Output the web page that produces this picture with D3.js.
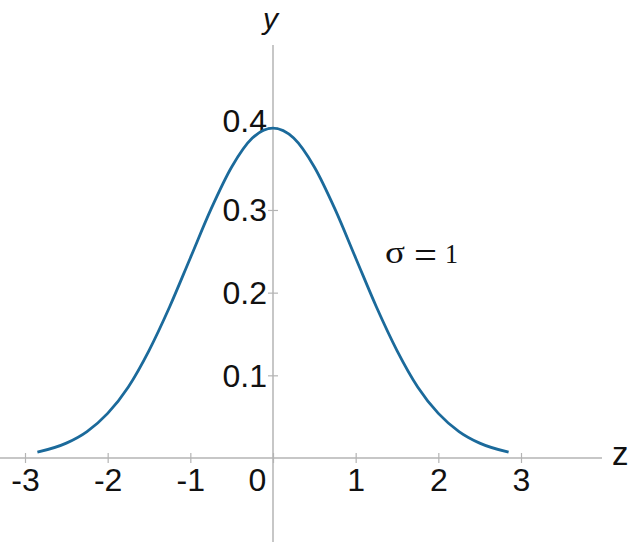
<!DOCTYPE html>
<html>
<head>
<meta charset="utf-8">
<script src="https://cdn.jsdelivr.net/npm/d3@7"></script>
<style>
  body { margin: 0; background: #fff; }
  svg { display: block; }
  .tick text { font-family: "Liberation Sans", Arial, sans-serif; fill: #111; }
</style>
</head>
<body>
<div id="chart"></div>
<script>
// values
const zValues = [-2.85, -2.5, -2.25, -2, -1.75, -1.5, -1.25, -1, -0.75, -0.5, -0.25, 0,
  0.25, 0.5, 0.75, 1, 1.25, 1.5, 1.75, 2, 2.25, 2.5, 2.85];
const yValues = [0.007, 0.018, 0.032, 0.054, 0.086, 0.130, 0.183, 0.242, 0.301, 0.352, 0.387, 0.399,
  0.387, 0.352, 0.301, 0.242, 0.183, 0.130, 0.086, 0.054, 0.032, 0.018, 0.007];
const xTickValues = [-3, -2, -1, 0, 1, 2, 3];
const yTickValues = [0.1, 0.2, 0.3, 0.4];
const sigmaLabel = ['σ', '=', '1'];

const width = 640;
const height = 554;

const svg = d3.select('#chart').append('svg')
  .attr('width', width)
  .attr('height', height)
  .attr('viewBox', [0, 0, width, height]);

// scales
const x = d3.scaleLinear().domain([-3, 3]).range([25, 521]);
const y = d3.scaleLinear().domain([0, 0.4]).range([458, 127.3]);

const axisColor = '#b4b4b4';

// axis lines
svg.append('line')
  .attr('x1', 0).attr('x2', 602)
  .attr('y1', y(0)).attr('y2', y(0))
  .attr('stroke', axisColor).attr('stroke-width', 1.5);

svg.append('line')
  .attr('x1', x(0)).attr('x2', x(0))
  .attr('y1', 45).attr('y2', 542)
  .attr('stroke', axisColor).attr('stroke-width', 1.5);

// x axis ticks
const xAxis = svg.append('g')
  .attr('transform', `translate(0,${y(0)})`)
  .call(d3.axisBottom(x).tickValues(xTickValues).tickFormat(d => String(d)).tickSize(5).tickPadding(5));
xAxis.select('.domain').remove();
xAxis.selectAll('.tick line')
  .attr('y1', -5).attr('y2', 5)
  .attr('stroke', axisColor).attr('stroke-width', 1.2);
xAxis.selectAll('.tick text')
  .attr('font-size', 32)
  .attr('dx', d => d === 0 ? -16 : 0);

// y axis ticks
const yAxis = svg.append('g')
  .attr('transform', `translate(${x(0)},0)`)
  .call(d3.axisLeft(y).tickValues(yTickValues).tickFormat(d3.format('.1f')).tickSize(5).tickPadding(1));
yAxis.select('.domain').remove();
yAxis.selectAll('.tick line')
  .attr('x1', -5).attr('x2', 5)
  .attr('stroke', axisColor).attr('stroke-width', 1.2);
yAxis.selectAll('.tick text')
  .attr('font-size', 32)
  .attr('dy', d => d === 0.4 ? '0.12em' : '0.34em');

// curve
const line = d3.line()
  .x((d, i) => x(zValues[i]))
  .y(d => y(d))
  .curve(d3.curveMonotoneX);

svg.append('path')
  .datum(yValues)
  .attr('d', line)
  .attr('fill', 'none')
  .attr('stroke', '#1b6a9b')
  .attr('stroke-width', 2.8);

// axis names
svg.append('text')
  .attr('x', 612).attr('y', 465)
  .attr('font-family', '"Liberation Sans", Arial, sans-serif')
  .attr('font-size', 33)
  .attr('fill', '#111')
  .text('z');

svg.append('text')
  .attr('x', 263).attr('y', 29)
  .attr('font-family', '"Liberation Sans", Arial, sans-serif')
  .attr('font-style', 'italic')
  .attr('font-size', 30)
  .attr('fill', '#111')
  .text('y');

// sigma note
const sigmaX = [385, 414, 445];
const sigmaY = [263, 269, 263];
const sigmaSize = [31, 40, 27];
const sigmaLen = [20, 23, 13];
svg.selectAll('.sigma')
  .data(sigmaLabel)
  .join('text')
  .attr('class', 'sigma')
  .attr('x', (d, i) => sigmaX[i])
  .attr('y', (d, i) => sigmaY[i])
  .attr('font-family', '"Liberation Serif", "Times New Roman", serif')
  .attr('font-size', (d, i) => sigmaSize[i])
  .attr('textLength', (d, i) => sigmaLen[i])
  .attr('lengthAdjust', 'spacingAndGlyphs')
  .attr('fill', '#111')
  .text(d => d);
</script>
</body>
</html>
